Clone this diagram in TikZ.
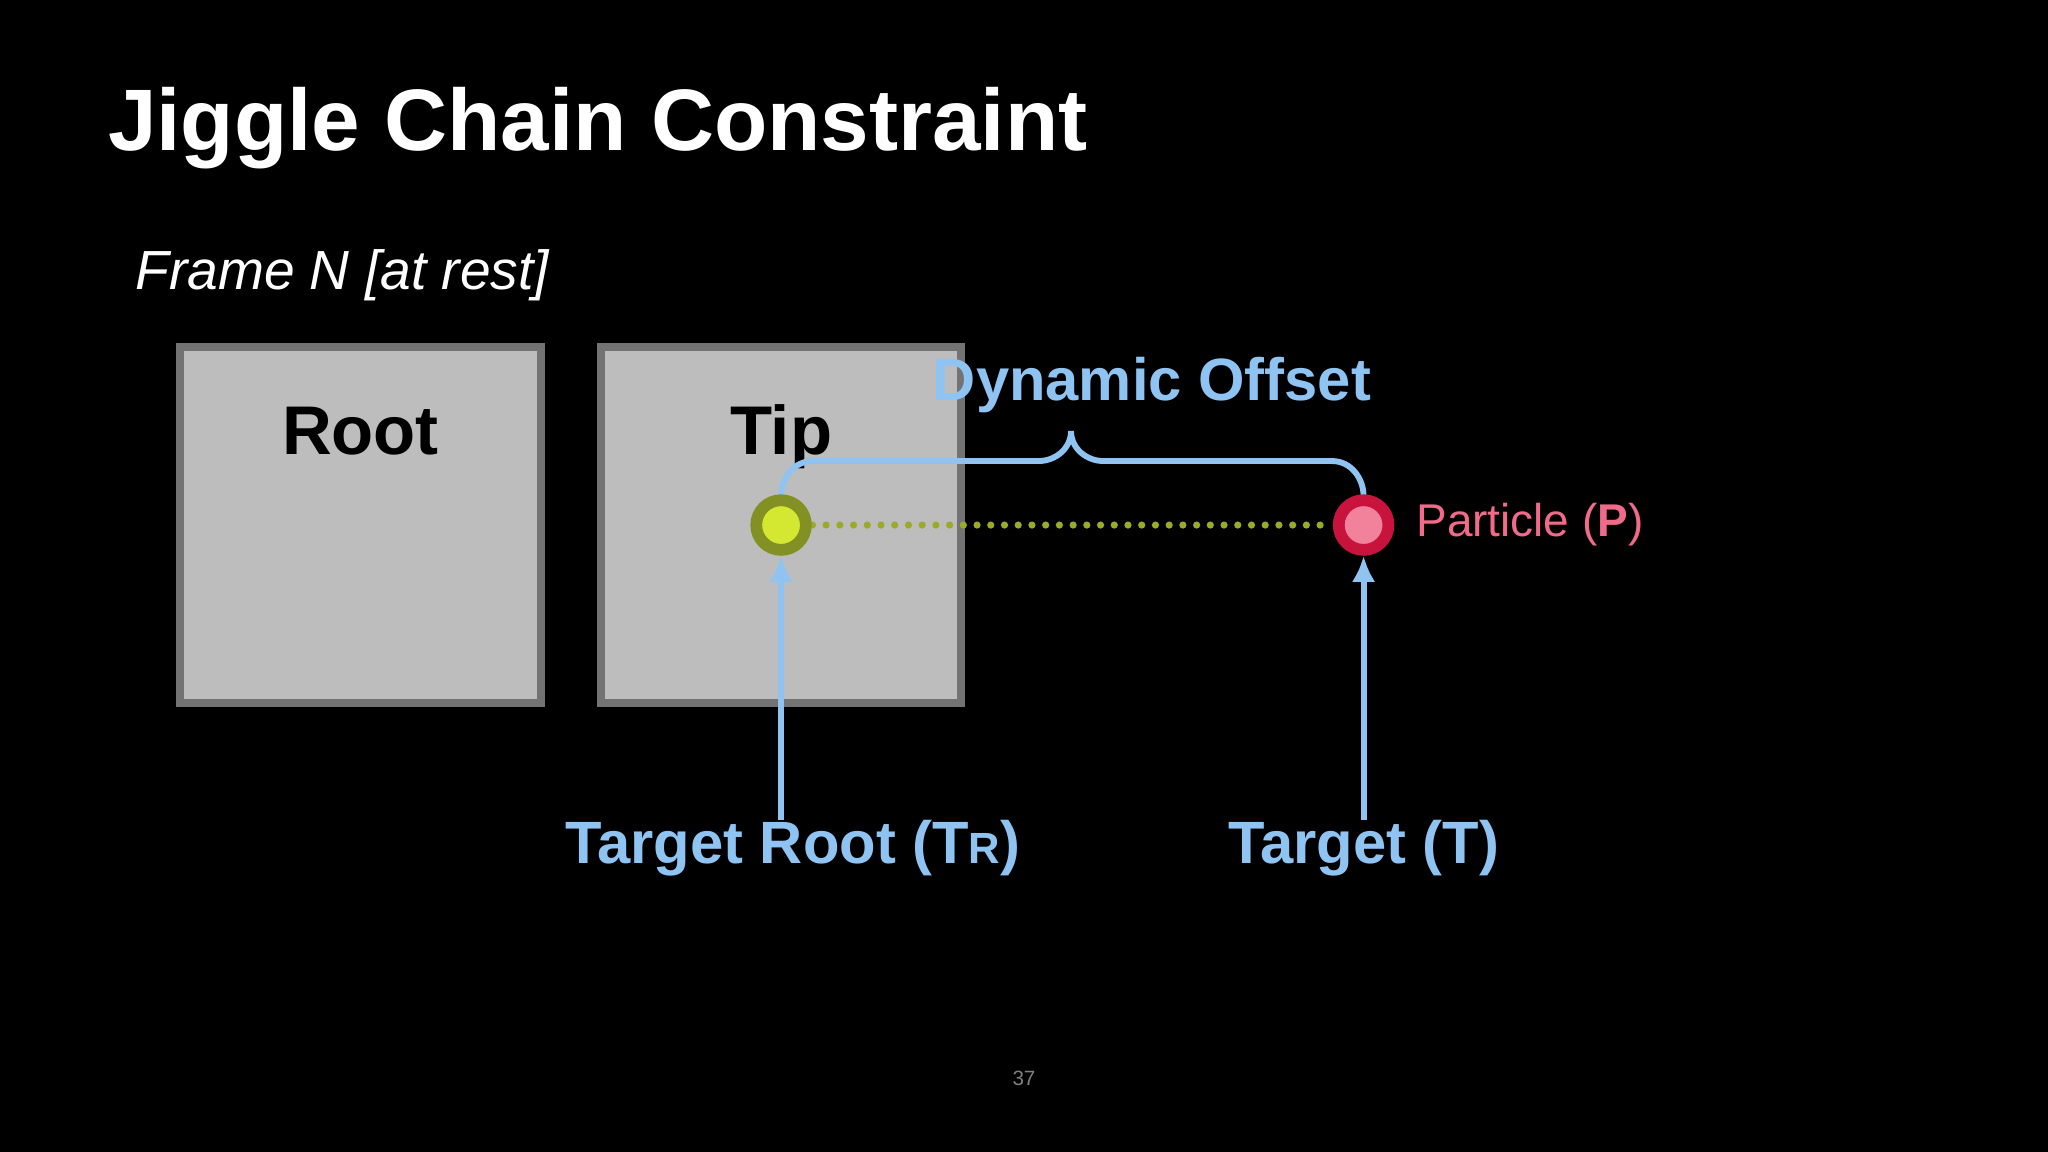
\documentclass[tikz,border=0pt]{standalone}
\usepackage{fontspec}
\setmainfont{Liberation Sans}
\usetikzlibrary{arrows.meta}
\definecolor{bl}{HTML}{8EC3F2}
\definecolor{pk}{HTML}{F06B8A}
\definecolor{grn}{HTML}{9AAB2A}
\definecolor{crim}{HTML}{C8143C}
\begin{document}
\begin{tikzpicture}[x=0.01cm,y=-0.01cm,
  box/.style={draw=black!55,line width=0.06cm,fill=black!26,minimum width=2.76cm,minimum height=2.72cm,inner sep=0},
  lbl/.style={font=\fontsize{13}{15}\selectfont\bfseries,text=bl},
  arr/.style={draw=bl,line width=0.045cm,-{Latex[length=0.2cm,width=0.18cm]}}]
\fill[black] (0,0) rectangle (1568,882);
\node[anchor=base west,text=white,font=\fontsize{19}{22}\selectfont\bfseries,inner sep=0] (title) at (82,115) {Jiggle Chain Constraint};
\node[anchor=base west,text=white,font=\fontsize{12}{15}\selectfont\itshape,inner sep=0] (frame) at (103,222) {Frame N [at rest]};
\node[box] (root) at (276,402) {};
\node[box] (tip) at (598,402) {};
\node[font=\fontsize{15}{18}\selectfont\bfseries,anchor=base] (rootl) at (276,348) {Root};
\node[font=\fontsize{15}{18}\selectfont\bfseries,anchor=base] (tipl) at (598,348) {Tip};
\draw[bl,line width=0.045cm] (598,380) to[out=90,in=180] (622,353) -- (795,353) to[out=0,in=-90] (820,330) to[out=-90,in=180] (845,353) -- (1020,353) to[out=0,in=90] (1044,380);
\node[lbl,anchor=base] (dyn) at (882,307) {Dynamic Offset};
\coordinate (a) at (622,402); \coordinate (b) at (1020,402);
\draw[grn,line width=0.055cm,dash pattern=on 0pt off 0.105cm,line cap=round] (a) -- (b);
\node[circle,draw=grn!85!black,line width=0.09cm,fill=yellow!80!green!85!white,minimum size=0.38cm,inner sep=0] (tr) at (598,402) {};
\node[circle,draw=crim,line width=0.09cm,fill=pk!85!white,minimum size=0.38cm,inner sep=0] (p) at (1044,402) {};
\node[anchor=west,text=pk,font=\fontsize{10}{12}\selectfont] (pl) at (1072,402) {Particle (\textbf{P})};
\coordinate (s1) at (598,628); \coordinate (s2) at (1044,628);
\draw[arr] (s1) -- (tr.south);
\draw[arr] (s2) -- (p.south);
\node[lbl,anchor=base] (trl) at (607,661) {Target Root (T{\fontsize{9.5}{10}\selectfont R})};
\node[lbl,anchor=base] (tl) at (1044,661) {Target (T)};
\node[text=black!50,font=\fontsize{4.5}{5}\selectfont] (pg) at (784,826) {37};
\end{tikzpicture}
\end{document}
